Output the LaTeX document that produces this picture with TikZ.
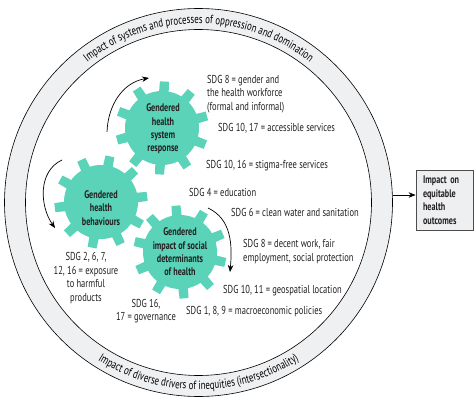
\documentclass[tikz,border=0pt]{standalone}
\usepackage{fontspec}
\setmainfont{PT Sans}[FakeStretch=0.74]
\usepackage{tikz}
\usetikzlibrary{arrows.meta,decorations.text}

\definecolor{gearteal}{HTML}{5AD3B8}
\definecolor{ringgrey}{HTML}{EEF0F2}
\definecolor{boxgrey}{HTML}{EDEFF0}
\definecolor{inkdark}{HTML}{231F20}

\newcommand{\ringfont}{\fontsize{12}{13}\selectfont}
\newcommand{\drawgear}[2]{%
  \fill[gearteal] (#1) circle (37);
  \foreach \a in {0,36,...,324}
    \fill[gearteal, shift={(#1)}, rotate=\a+#2] (-5,30) -- (5,30) -- (4.5,46.5) -- (-4.5,46.5) -- cycle;
}

\tikzset{
  sdg/.style={font=\fontsize{11.5}{13.5}\selectfont, align=left, inner sep=0pt, anchor=west, text=inkdark},
  geartext/.style={font=\bfseries\fontsize{11}{13.3}\selectfont, align=center, inner sep=0pt, text=inkdark},
  turn/.style={-{Stealth[length=7pt,width=5.5pt]}, line width=0.7pt},
}

\begin{document}
\begin{tikzpicture}[x=1pt, y=1pt]
  \useasboundingbox (0,0) rectangle (474,405);
  \coordinate (ctr) at (198.5,202.5);

  % outer ring
  \fill[ringgrey, even odd rule] (ctr) circle (194) (ctr) circle (173);
  \draw[line width=0.6pt] (ctr) circle (194);
  \draw[line width=0.6pt] (ctr) circle (173);
  \path[decorate, decoration={text along path, text align=center,
      text={|\ringfont|Impact of systems and processes of oppression and domination}}]
    (ctr) ++(135:179) arc[start angle=135, end angle=45, radius=179];
  \path[decorate, decoration={text along path, text align=center,
      text={|\ringfont|Impact of diverse drivers of inequities (intersectionality)}}]
    (ctr) ++(215:187) arc[start angle=215, end angle=325, radius=187];

  % gears
  \coordinate (g1) at (162,277);
  \coordinate (g2) at (101,203);
  \coordinate (g3) at (180,153);
  \drawgear{g1}{33}
  \drawgear{g2}{25}
  \drawgear{g3}{5}
  \node[geartext] (system) at (163,276) {Gendered\\health\\system\\response};
  \node[geartext] (behav) at (101,197) {Gendered\\health\\behaviours};
  \node[geartext] (social) at (180,153) {Gendered\\impact of social\\determinants\\of health};

  % turning arrows
  \coordinate (a1s) at (107,273);
  \coordinate (a1e) at (149,327);
  \coordinate (a2s) at (62,245);
  \coordinate (a2e) at (55,177);
  \coordinate (a3s) at (208,197);
  \coordinate (a3e) at (230,133);
  \draw[turn] (a1s) to[out=88, in=190] (a1e);
  \draw[turn] (a2s) to[out=205, in=125] (a2e);
  \draw[turn] (a3s) to[out=-25, in=85] (a3e);

  % SDG labels
  \node[sdg] (sdgwork) at (207,311) {SDG 8 = gender and\\the health workforce\\(formal and informal)};
  \node[sdg] (sdgaccess) at (218,277) {SDG 10, 17 = accessible services};
  \node[sdg] (sdgstigma) at (206,239) {SDG 10, 16 = stigma-free services};
  \node[sdg] (sdgedu) at (189,213) {SDG 4 = education};
  \node[sdg] (sdgwater) at (231,193) {SDG 6 = clean water and sanitation};
  \node[sdg] (sdgdecent) at (243,153.5) {SDG 8 = decent work, fair\\employment, social protection};
  \node[sdg] (sdggeo) at (223,114) {SDG 10, 11 = geospatial location};
  \node[sdg] (sdgmacro) at (186,93) {SDG 1, 8, 9 = macroeconomic policies};
  \node[sdg, anchor=center, align=center] (sdggov) at (146,94) {SDG 16,\\17 = governance};
  \node[sdg, anchor=center, align=center] (sdgharm) at (86,127) {SDG 2, 6, 7,\\12, 16 = exposure\\to harmful\\products};

  % outcome
  \node[draw=black!70, line width=0.8pt, fill=boxgrey, align=left, inner sep=0pt,
        minimum width=57, minimum height=60, text width=43,
        font=\bfseries\fontsize{11}{13.5}\selectfont, text=inkdark] (outcome) at (444.5,205)
        {Impact on\\equitable\\health\\outcomes};
  \coordinate (ringe) at (392.5,210);
  \draw[-{Stealth[length=7pt,width=5.5pt]}, line width=0.7pt] (ringe) -- (ringe -| outcome.west);
\end{tikzpicture}
\end{document}
